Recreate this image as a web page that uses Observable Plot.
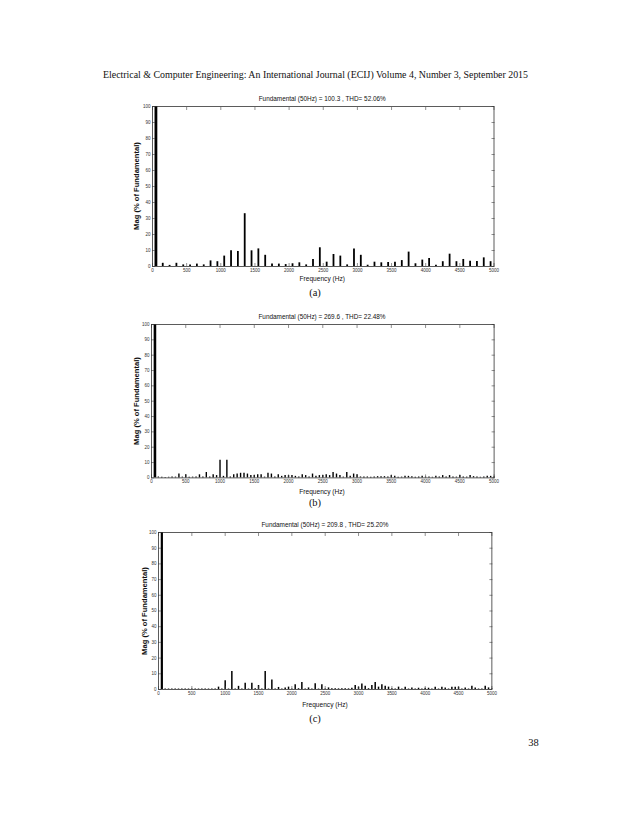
<!DOCTYPE html>
<html>
<head>
<meta charset="utf-8">
<script src="https://cdn.jsdelivr.net/npm/d3@7"></script>
<script src="https://cdn.jsdelivr.net/npm/@observablehq/plot@0.6"></script>
<style>
  html, body { margin: 0; padding: 0; background: #fff; }
  #page { position: relative; width: 638px; height: 826px; overflow: hidden; background: #fff; }
  .t { position: absolute; white-space: nowrap; transform: translate(-50%, -50%); line-height: 1; color: #111; }
  .serif { font-family: "Liberation Serif", "Times New Roman", serif; }
  .sans { font-family: Arial, "Liberation Sans", sans-serif; }
  svg { position: absolute; }
</style>
</head>
<body>
<div id="page"></div>
<script>
// ---------- data ----------
const header = "Electrical & Computer Engineering: An International Journal (ECIJ) Volume 4, Number 3, September 2015";
const pageNumber = "38";
const titles = [
  "Fundamental (50Hz) = 100.3 , THD= 52.06%",
  "Fundamental (50Hz) = 269.6 , THD= 22.48%",
  "Fundamental (50Hz) = 209.8 , THD= 25.20%"
];
const captions = ["(a)", "(b)", "(c)"];
const xLabel = "Frequency (Hz)";
const yLabel = "Mag (% of Fundamental)";
const xTicks = [0, 500, 1000, 1500, 2000, 2500, 3000, 3500, 4000, 4500, 5000];
const yTicks = [0, 10, 20, 30, 40, 50, 60, 70, 80, 90, 100];

// (a) odd harmonics 1,3,5,...,99 (50 Hz, 150 Hz, ... 4950 Hz)
const orderA = [1,3,5,7,9,11,13,15,17,19,21,23,25,27,29,31,33,35,37,39,41,43,45,47,49,
                51,53,55,57,59,61,63,65,67,69,71,73,75,77,79,81,83,85,87,89,91,93,95,97,99];
const magA = [100, 2, 0.7, 2, 1, 1, 1.5, 1, 3.5, 3,
              6.5, 9.8, 9.4, 33, 9.8, 11, 7, 1.5, 1.5, 1.2,
              1.7, 2.3, 1, 4.4, 11.7, 2.7, 7.5, 6.5, 1, 11,
              7, 0.8, 2.7, 2.3, 2.5, 2.7, 3.7, 9, 1.7, 4,
              5, 0.8, 3, 7.7, 3, 4.4, 3.3, 3.1, 5.4, 3];

// (b) harmonics 1..100
const magB = [100, 0.6, 0.4, 0.3, 0.4, 0.6, 0.5, 2.5, 0.5, 2,
              0.4, 0.5, 0.5, 2, 0.5, 3.5, 0.5, 2, 1.5, 11.5,
              1, 11.5, 0.5, 2, 2.5, 3, 3, 2.5, 1.5, 1.5,
              2, 2, 0.5, 3, 2.5, 0.5, 2, 1, 1.5, 1.5,
              1.5, 1, 0.5, 2, 1.5, 0.5, 2.5, 1, 1.5, 1.5,
              2, 1.5, 3.5, 2.5, 1.5, 0.5, 3.5, 1, 2.5, 2,
              0.6, 0.5, 0.6, 0.4, 0.6, 0.8, 0.7, 0.8, 0.5, 1.5,
              1, 0.4, 0.5, 1, 1, 0.8, 0.4, 0.5, 1, 0.5,
              0.5, 0.4, 1, 0.5, 1.5, 0.5, 1.5, 0.5, 0.5, 1.5,
              0.5, 0.5, 1.5, 0.8, 0.5, 0.4, 0.5, 1, 1, 0.5];

// (c) harmonics 1..100
const magC = [100, 0.3, 0.3, 0.3, 0.3, 0.3, 0.3, 0.3, 0.3, 0.3,
              0.3, 0.3, 0.3, 0.3, 0.3, 0.3, 0.3, 1.5, 0.3, 5.5,
              0.3, 11.5, 0.3, 2, 0.3, 4, 0.3, 4, 0.5, 2.5,
              0.3, 11.5, 0.3, 6, 0.3, 1.3, 0.3, 1, 1.5, 0.3,
              3, 0.5, 4.5, 0.3, 1, 0.3, 3.7, 0.3, 3, 0.3,
              1, 0.4, 0.4, 0.4, 0.4, 0.4, 0.4, 0.8, 2.5, 1.5,
              3.5, 2, 0.5, 2.5, 4.5, 1.5, 3, 2, 1.5, 0.5,
              0.3, 1.5, 0.3, 1.5, 0.3, 1, 0.3, 0.8, 0.3, 0.8,
              0.8, 0.3, 1.5, 0.3, 1.5, 1, 0.3, 1.5, 1.5, 1.5,
              0.3, 1, 0.3, 2, 1, 0.3, 0.3, 2, 1, 0.3];

const fundamentalHz = 50;

// ---------- layout ----------
const page = document.getElementById("page");
function addText(txt, x, y, cls, css = {}) {
  const d = document.createElement("div");
  d.className = "t " + cls;
  d.textContent = txt;
  d.style.left = x + "px";
  d.style.top = y + "px";
  Object.assign(d.style, css);
  page.appendChild(d);
  return d;
}

addText(header, 315.5, 75, "serif", { fontSize: "9.9px" });
addText(pageNumber, 533.5, 743, "serif", { fontSize: "10.5px" });

const panels = [
  { orders: orderA, mags: magA, frame: [151.5, 493, 106, 266], barW: 1.8, fundW: 2.8,
    titleY: 99, xlabY: 279, ylabX: 136.7, capY: 293 },
  { orders: magB.map((_, i) => i + 1), mags: magB, frame: [150.7, 493.3, 324.3, 477.7], barW: 1.4, fundW: 2.6,
    titleY: 316.7, xlabY: 491.7, ylabX: 136.7, capY: 503 },
  { orders: magC.map((_, i) => i + 1), mags: magC, frame: [158.3, 491.7, 532.3, 689.3], barW: 1.5, fundW: 2.2,
    titleY: 525, xlabY: 704.5, ylabX: 145, capY: 719 }
];

const ML = 20, MR = 6, MT = 6, MB = 12;

panels.forEach((p, k) => {
  const [l, r, t, b] = p.frame;
  const data = p.orders.map((h, i) => ({ f: h * fundamentalHz, m: p.mags[i], h }));
  const fmt = d3.format("d");
  const svg = Plot.plot({
    width: (r - l) + ML + MR,
    height: (b - t) + MT + MB,
    marginLeft: ML, marginRight: MR, marginTop: MT, marginBottom: MB,
    x: { domain: [0, 5000] },
    y: { domain: [0, 100] },
    style: { fontFamily: "Arial, 'Liberation Sans', sans-serif", fontSize: "4.5px", background: "transparent", overflow: "visible", color: "#222" },
    marks: [
      Plot.ruleX(data.filter(d => d.h !== 1), { x: "f", y1: 0, y2: "m", stroke: "#000", strokeWidth: p.barW }),
      Plot.ruleX(data.filter(d => d.h === 1), { x: "f", y1: 0, y2: "m", stroke: "#000", strokeWidth: p.fundW }),
      Plot.axisX(xTicks, { anchor: "bottom", tickSize: 0, tickPadding: 2.2, label: null, tickFormat: fmt, fill: "#333" }),
      Plot.axisX(xTicks, { anchor: "bottom", tickSize: -3, tickFormat: () => "", label: null, stroke: "#444", strokeWidth: 0.6 }),
      Plot.axisX(xTicks, { anchor: "top", tickSize: -3, tickFormat: () => "", label: null, stroke: "#444", strokeWidth: 0.6 }),
      Plot.axisY(yTicks, { anchor: "left", tickSize: 0, tickPadding: 2, label: null, tickFormat: fmt, fill: "#333" }),
      Plot.axisY(yTicks, { anchor: "left", tickSize: -3, tickFormat: () => "", label: null, stroke: "#444", strokeWidth: 0.6 }),
      Plot.axisY(yTicks, { anchor: "right", tickSize: -3, tickFormat: () => "", label: null, stroke: "#444", strokeWidth: 0.6 }),
      Plot.frame({ stroke: "#333", strokeWidth: 0.8 })
    ]
  });
  svg.style.left = (l - ML) + "px";
  svg.style.top = (t - MT) + "px";
  page.appendChild(svg);

  const cx = (l + r) / 2;
  addText(titles[k], cx, p.titleY, "sans", { fontSize: "6.4px" });
  addText(xLabel, cx, p.xlabY, "sans", { fontSize: "6.6px" });
  addText(yLabel, p.ylabX, (t + b) / 2, "sans", { fontSize: "7.6px", fontWeight: "bold", transform: "translate(-50%, -50%) rotate(-90deg)" });
  addText(captions[k], 315, p.capY, "serif", { fontSize: "10.5px" });
});
</script>
</body>
</html>
